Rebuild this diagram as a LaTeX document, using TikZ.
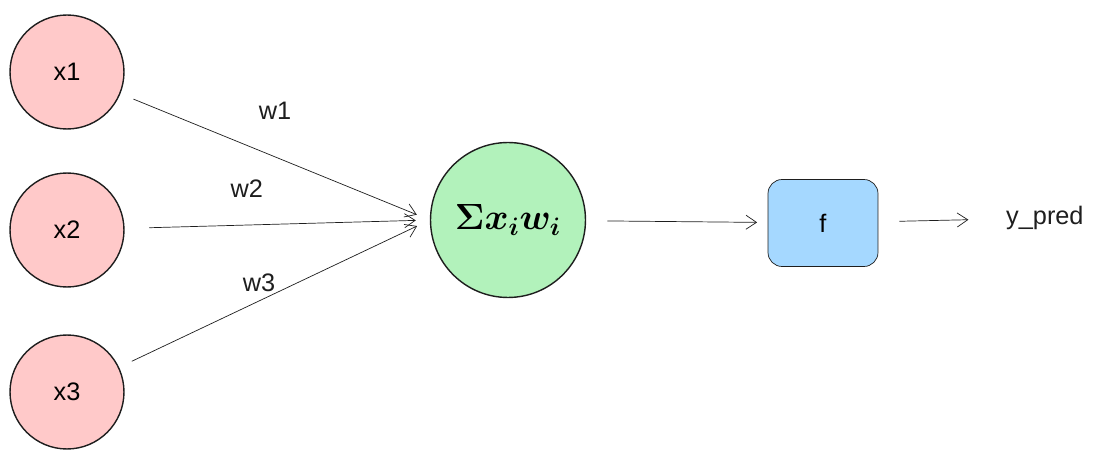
\documentclass[tikz,border=0pt]{standalone}
\usepackage{amsmath}
\usepackage{fontspec}
\setmainfont{Liberation Sans}
\usetikzlibrary{arrows.meta}
\definecolor{inred}{HTML}{FFC9C9}
\definecolor{sumgreen}{HTML}{B2F2BB}
\definecolor{actblue}{HTML}{A5D8FF}
\definecolor{ink}{HTML}{1E1E1E}
\begin{document}
\begin{tikzpicture}[x=0.02cm, y=-0.02cm,
    inp/.style={circle, draw=ink, thick, fill=inred, minimum size=2.28cm, font=\Large},
    arr/.style={-{Straight Barb[length=6pt, width=8pt]}, ink, thin},
    lbl/.style={font=\Large, ink}]
    \useasboundingbox (0,0) rectangle (1106,459);
    % inputs
    \node[inp] (X1) at (67,72) {x1};
    \node[inp] (X2) at (67,230) {x2};
    \node[inp] (X3) at (67,392) {x3};
    % weighted sum and activation
    \node[circle, draw=ink, thick, fill=sumgreen, minimum size=3.1cm, inner sep=0pt, font=\huge] (SUM) at (508,220) {$\boldsymbol{\Sigma x_i w_i}$};
    \node[rectangle, rounded corners=8pt, draw=ink, fill=actblue, minimum width=2.2cm, minimum height=1.74cm, font=\Large] (F) at (823,223) {f};
    \node[lbl, anchor=west] (YPRED) at (1000,218) {y\_pred};
    % weights
    \draw[arr, shorten <=8pt, shorten >=8pt] (X1) -- node[lbl, pos=0.5, above=18pt] {w1} (SUM.west);
    \draw[arr, shorten <=14pt, shorten >=8pt] (X2) -- node[lbl, pos=0.4, above=12pt] {w2} (SUM.west);
    \draw[arr, shorten <=8pt, shorten >=8pt] (X3) -- node[lbl, pos=0.45, above=2pt] {w3} (SUM.west);
    % output
    \draw[arr, shorten <=12pt, shorten >=6pt] (SUM) -- (F);
    \draw[arr, shorten <=12pt, shorten >=18pt] (F) -- (YPRED);
\end{tikzpicture}
\end{document}
